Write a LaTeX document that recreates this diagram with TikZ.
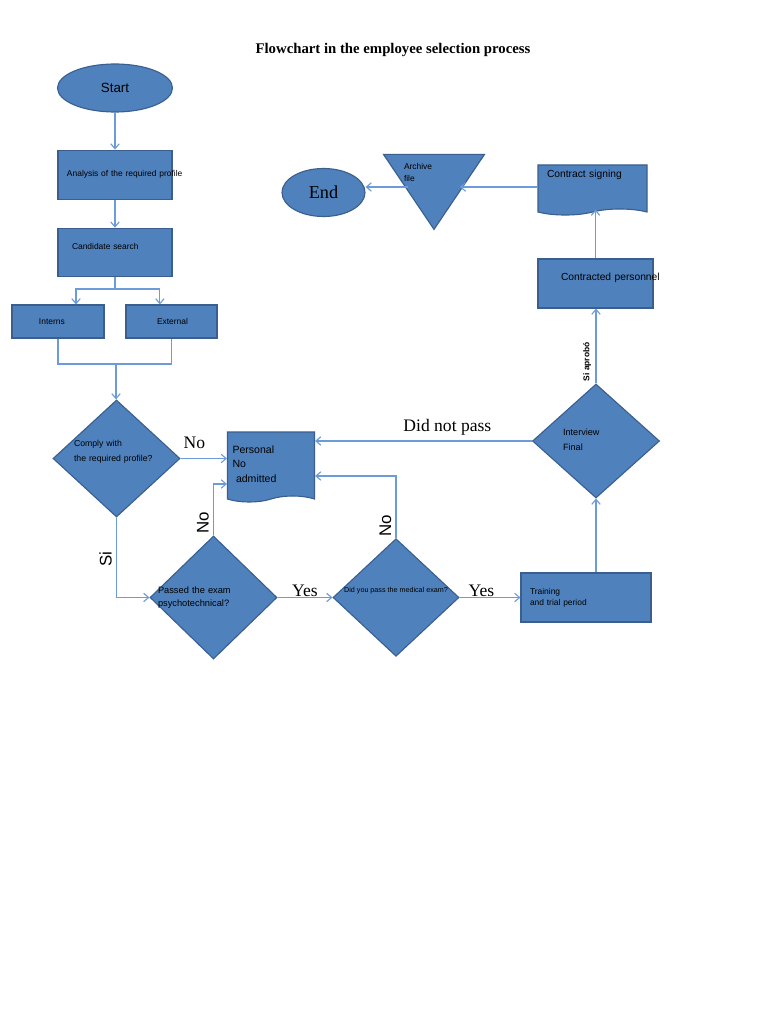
\documentclass[tikz,border=0pt]{standalone}
\usepackage{fontspec}
\setmainfont{Liberation Serif}
\setsansfont{Liberation Sans}
\usetikzlibrary{arrows.meta, positioning, calc, shapes.geometric, shapes.symbols}
\definecolor{flowblue}{HTML}{4F81BD}
\definecolor{flowedge}{HTML}{3A5F8E}
\definecolor{flowline}{HTML}{6C9BD9}

\begin{document}
\begin{tikzpicture}[
    x=0.25mm, y=-0.25mm,
    node distance=7mm,
    shapebase/.style={
      fill=flowblue, draw=flowedge, line width=0.8pt, text=black,
      font=\sffamily\fontsize{6}{8.5}\selectfont
    },
    procbox/.style={shapebase, rectangle, inner ysep=0pt, align=left},
    docbox/.style={
      shapebase, tape, tape bend top=none, tape bend bottom=in and out,
      tape bend height=1.5mm, inner ysep=0pt, align=left
    },
    decision/.style={shapebase, diamond, inner sep=0pt, align=left},
    terminal/.style={shapebase, ellipse, inner sep=0pt},
    archivetri/.style={
      shapebase, isosceles triangle, shape border rotate=270,
      isosceles triangle apex angle=68, isosceles triangle stretches,
      inner sep=0pt, align=left
    },
    conn/.style={draw=flowline, line width=0.8pt, -{Straight Barb[length=3.5pt, width=6pt]}},
    plainline/.style={draw=flowline, line width=0.8pt},
    lbl/.style={font=\rmfamily\fontsize{12.5}{14}\selectfont, inner sep=0.5pt},
    vlbl/.style={font=\sffamily\fontsize{12}{14}\selectfont, rotate=90, anchor=south, inner sep=3pt},
]
  \fill[white] (0,0) rectangle (768,1024);
  \useasboundingbox (0,0) rectangle (768,1024);

  \node[font=\rmfamily\bfseries\fontsize{10.5}{12}\selectfont] (title) at (393,50) {Flowchart in the employee selection process};

  % left column
  \node[terminal, minimum width=28.75mm, minimum height=12mm, font=\sffamily\fontsize{9.5}{11}\selectfont] (start) at (115,88) {Start};
  \node[procbox, below=9.25mm of start, minimum height=12.25mm, text width=24mm, inner xsep=2.25mm] (analysis) {\mbox{Analysis of the required profile}};
  \node[procbox, below=7mm of analysis, minimum height=12mm, text width=21.5mm, inner xsep=3.5mm,
        text height=1.5mm, text depth=3mm] (search) {Candidate search};
  \node[procbox, minimum height=8.25mm, text width=9.5mm, inner xsep=6.75mm] (interns) at (58,321.5) {Interns};
  \node[procbox, minimum height=8.25mm, text width=7.25mm, inner xsep=7.75mm] (external) at (171.5,321.5) {\mbox{External}};
  \coordinate (split) at (115,289);
  \coordinate (join) at (116,364);

  % decisions
  \node[decision, minimum width=31.75mm, minimum height=29.25mm, text width=21.25mm,
        text height=0.5mm, text depth=6.5mm, font=\sffamily\fontsize{6.2}{10.5}\selectfont] (comply) at (116.5,458.5) {Comply with\\the required profile?};
  \node[docbox, minimum height=17.5mm, text width=19.25mm, inner xsep=1.25mm,
        font=\sffamily\fontsize{7.5}{10.5}\selectfont] (personal) at (271,464) {Personal\\No\\\ admitted};
  \node[decision, minimum width=31.75mm, minimum height=28.75mm, text width=27.75mm,
        text height=0.5mm, text depth=2.5mm, font=\sffamily\fontsize{6.6}{9.2}\selectfont] (psych) at (213.5,597.5) {Passed the exam\\psychotechnical?};
  \node[decision, minimum width=31.5mm, minimum height=28.75mm, align=center,
        text height=0.5mm, text depth=3mm, font=\sffamily\fontsize{5.1}{6}\selectfont] (medical) at (396,597.5) {Did you pass the medical exam?};
  \node[procbox, minimum height=12.25mm, text width=28mm, inner xsep=2.25mm,
        font=\sffamily\fontsize{6}{7.8}\selectfont] (training) at (586,597.5) {Training\\and trial period};
  \node[decision, minimum width=31.75mm, minimum height=28.5mm, text width=16.5mm,
        text height=0.5mm, text depth=3.25mm, font=\sffamily\fontsize{6.5}{10.5}\selectfont] (interview) at (596,441) {Interview\\Final};

  % right column
  \node[procbox, minimum height=12.25mm, text width=17.25mm, inner xsep=5.75mm,
        text height=1.5mm, text depth=3mm, font=\sffamily\fontsize{7.3}{9}\selectfont] (contracted) at (595.5,283.5) {\mbox{Contracted personnel}};
  \node[docbox, minimum height=12.5mm, text width=22.75mm, inner xsep=2.25mm,
        text height=1.5mm, text depth=6.25mm, font=\sffamily\fontsize{7.3}{9}\selectfont] (contract) at (592.5,187) {Contract signing};
  \node[archivetri, minimum width=25.25mm, minimum height=18.75mm, text width=15mm,
        text height=3.5mm, text depth=3mm] (archive) at (434,169) {Archive\\file};
  \node[terminal, minimum width=20.75mm, minimum height=12mm, font=\rmfamily\fontsize{13}{15}\selectfont] (finish) at (323.5,192.5) {End};

  % connectors
  \draw[conn] (start) -- (analysis);
  \draw[conn] (analysis) -- (search);
  \draw[plainline] (search) -- (split);
  \draw[conn] (split) -| ([xshift=4.5mm]interns.north);
  \draw[conn] (split) -| ([xshift=-2.9mm]external.north);
  \draw[plainline] (interns.south) |- (join) -| (external.south);
  \draw[conn] (join) -- (join |- comply.north);
  \draw[conn] (comply.east) -- node[lbl, pos=0.3, above, yshift=6pt] {No} (comply.east -| personal.west);
  \draw[conn] (comply.south) |- node[vlbl, pos=0.26] {Si} (psych.west);
  \draw[conn] (psych.north) |- node[vlbl, pos=0.12] {No} ([yshift=-5mm]personal.west);
  \draw[conn] (psych.east) -- node[lbl, above] {Yes} (medical.west);
  \draw[conn] (medical.north) |- node[vlbl, pos=0.1] {No} ([yshift=-3mm]personal.east);
  \draw[conn] (medical.east) -- node[lbl, pos=0.36, above] {Yes} (training.west);
  \draw[conn] (interview.south |- training.north) -- (interview.south);
  \draw[conn] (interview.west) -- node[lbl, pos=0.39, above, yshift=3pt] {Did not pass} (interview.west -| personal.east);
  \draw[conn] (interview.north) -- node[vlbl, pos=0.29, font=\sffamily\bfseries\fontsize{6}{7}\selectfont] {Si aprobó} (interview.north |- contracted.south);
  \draw[conn] (contracted.north) -- (contracted.north |- contract.south);
  \draw[conn] (contract.west) -- (contract.west -| archive.left side);
  \draw[conn] (archive.right side |- contract.west) -- (contract.west -| finish.east);
\end{tikzpicture}
\end{document}
